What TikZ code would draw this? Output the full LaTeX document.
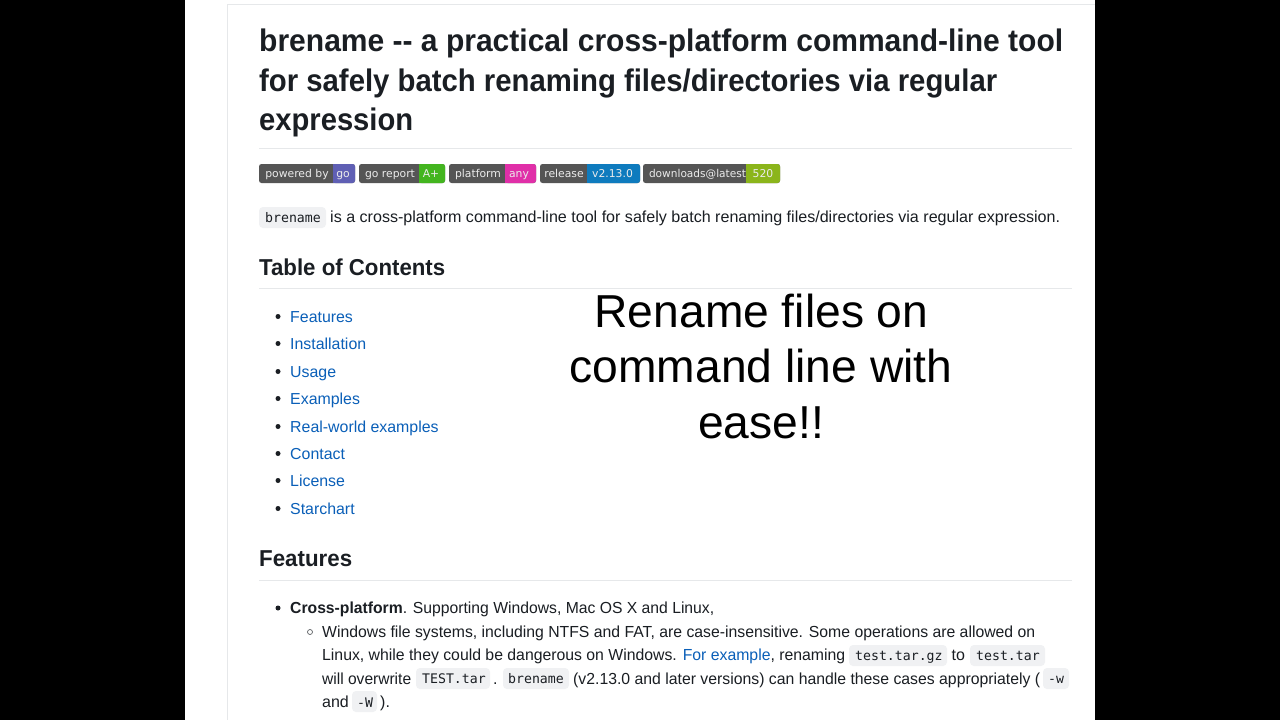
\documentclass[tikz,border=0pt]{standalone}
\usepackage{fontspec}
\setmainfont{Liberation Sans}
\setmonofont{DejaVu Sans Mono}
\newfontfamily\badgefont{DejaVu Sans}
\definecolor{ink}{HTML}{1A1E23}
\definecolor{linkc}{HTML}{0A5FB8}
\definecolor{rulec}{HTML}{E6E8EA}
\definecolor{codebg}{HTML}{F0F1F3}
\definecolor{bdgrey}{HTML}{555555}
\definecolor{bdA}{HTML}{5F5FB4}
\definecolor{bdB}{HTML}{43B51F}
\definecolor{bdC}{HTML}{E02FA8}
\definecolor{bdD}{HTML}{0E7BBE}
\definecolor{bdE}{HTML}{8BB51B}
\newcommand{\fitw}[2]{\resizebox{#1pt}{\height}{#2}}
\tikzset{
  txt/.style={anchor=base west,inner sep=0pt,text=ink,font=\fontsize{16}{19}\selectfont},
  title/.style={txt,font=\fontsize{31.2}{36}\selectfont\bfseries},
  head/.style={txt,font=\fontsize{23}{27}\selectfont\bfseries},
  toc/.style={txt,text=linkc,font=\fontsize{15.9}{19}\selectfont},
  big/.style={anchor=base,inner sep=0pt,text=black,font=\fontsize{46.2}{52}\selectfont},
  bul/.style={circle,fill=ink,inner sep=0pt,minimum size=5pt},
  hbul/.style={circle,draw=ink!70,line width=.7pt,inner sep=0pt,minimum size=5pt},
  code/.style={anchor=base west,inner sep=0pt,text=ink,font=\fontsize{13.2}{16}\ttfamily},
  chip/.style={fill=codebg,rounded corners=4pt},
  badge/.style={anchor=base,inner sep=0pt,text=white!92!black,font=\fontsize{10.8}{14}\badgefont},
  hrule/.style={draw=rulec,line width=1pt},
}
\newcommand{\badgeshape}[4]{%
  \fill[bdgrey,rounded corners=2.5pt] (#1,164) rectangle (#2,183);
  \fill[#4,rounded corners=2.5pt] (#3,164) rectangle (#2,183);
  \fill[#4] (#3,164) rectangle ({#3+3},183);
}
\begin{document}
\begin{tikzpicture}[x=1pt,y=-1pt]
\useasboundingbox (0,0) rectangle (1280,720);
\fill[black] (0,0) rectangle (1280,720);
\fill[white] (185,0) rectangle (1095,720);
\draw[hrule] (227.5,720) -- (227.5,4.5) -- (1095,4.5);
% title
\node[title] (t1) at (259,52) {\fitw{804}{brename -{}- a practical cross-platform command-line tool}};
\node[title] (t2) at (259,91) {\fitw{738}{for safely batch renaming files/directories via regular}};
\node[title] (t3) at (259,130) {\fitw{154}{expression}};
\draw[hrule] (259,148) -- (1072,148);
% badges
\badgeshape{259}{355}{333}{bdA}
\badgeshape{359}{445}{419}{bdB}
\badgeshape{449}{536}{505}{bdC}
\badgeshape{540}{640}{587}{bdD}
\badgeshape{643}{780}{746}{bdE}
\node[badge] (b1) at (297,177) {powered by};
\node[badge] (b1v) at (343,177) {go};
\node[badge] (b2) at (390,177) {go report};
\node[badge] (b2v) at (431,177) {A+};
\node[badge] (b3) at (478,177) {platform};
\node[badge] (b3v) at (519,177) {any};
\node[badge] (b4) at (564,177) {release};
\node[badge] (b4v) at (612.5,177) {v2.13.0};
\node[badge] (b5) at (697.5,177) {\fitw{97}{downloads@latest}};
\node[badge] (b5v) at (763,177) {520};
% intro
\fill[chip] (259,207) rectangle (326,228);
\node[code] (c0) at (265,222) {brename};
\node[txt] (intro) at (330,222.5) {\fitw{730}{is a cross-platform command-line tool for safely batch renaming files/directories via regular expression.}};
% TOC
\node[head] (h1) at (259,275) {\fitw{186}{Table of Contents}};
\draw[hrule] (259,288.5) -- (1072,288.5);
\foreach \n/\y/\s in {a/322/Features,b/349/Installation,c/377/Usage,d/404/Examples,e/432/Real-world examples,f/459/Contact,g/486/License,h/514/Starchart}{
  \node[bul] (bul\n) at (278,\y-5.5) {};
  \node[toc] (toc\n) at (290,\y) {\s};
}
% overlay
\node[big] (o1) at (761.5,327) {Rename files on};
\node[big] (o2) at (761,382.5) {command line with};
\node[big] (o3) at (761,438) {ease!!};
% Features
\node[head] (h2) at (259,566) {\fitw{93}{Features}};
\draw[hrule] (259,580) -- (1072,580);
\node[bul] (bul1) at (278,608) {};
\node[txt] (f1) at (290,613) {\fitw{424}{\textbf{Cross-platform}. Supporting Windows, Mac OS X and Linux,}};
\node[hbul] (bul2) at (310,632) {};
\node[txt] (f2) at (322,637) {\fitw{713}{Windows file systems, including NTFS and FAT, are case-insensitive. Some operations are allowed on}};
\node[txt] (f3) at (322,660) {\fitw{523}{Linux, while they could be dangerous on Windows. \textcolor{linkc}{For example}, renaming}};
\fill[chip] (849,645) rectangle (947,666);
\node[code] (c1) at (855,660) {test.tar.gz};
\node[txt] (f3b) at (951.5,660) {to};
\fill[chip] (970,645) rectangle (1045,666);
\node[code] (c2) at (976,660) {test.tar};
\node[txt] (f4) at (322,684) {\fitw{89}{will overwrite}};
\fill[chip] (416,668) rectangle (490,689);
\node[code] (c3) at (422,683) {TEST.tar};
\node[txt] (f4b) at (493,684) {.};
\fill[chip] (503,668) rectangle (569,689);
\node[code] (c4) at (508,683) {brename};
\node[txt] (f4c) at (573,684) {\fitw{467}{(v2.13.0 and later versions) can handle these cases appropriately (}};
\fill[chip] (1043,668) rectangle (1069,689);
\node[code] (c5) at (1048,683) {-w};
\node[txt] (f5) at (322,707) {and};
\fill[chip] (352,691) rectangle (377,712);
\node[code] (c6) at (357,707) {-W};
\node[txt] (f5b) at (380,707) {).};
\end{tikzpicture}
\end{document}
